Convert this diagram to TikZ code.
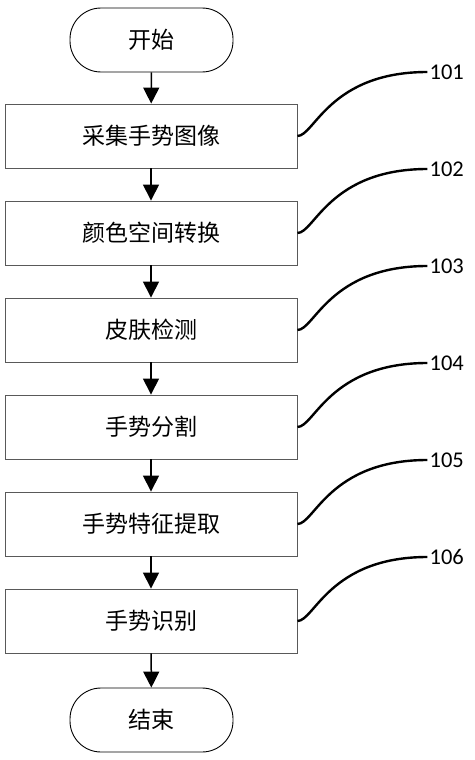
\documentclass[tikz,border=0pt]{standalone}
\usepackage{fontspec}
\setmainfont{Carlito}
\newfontfamily\cjk{Noto Sans CJK SC}
\usetikzlibrary{arrows.meta}
\begin{document}
\begin{tikzpicture}[x=1pt,y=-1pt,
  stepbox/.style={draw=black!65,line width=0.9pt,minimum width=292pt,minimum height=64pt,inner sep=0pt,font=\cjk\fontsize{23}{27}\selectfont},
  term/.style={draw=black,line width=0.9pt,rounded corners=31pt,minimum width=163pt,minimum height=64pt,inner sep=0pt,font=\cjk\fontsize{23}{27}\selectfont},
  flow/.style={line width=1.5pt,-{Triangle[length=16pt,width=16pt]}},
  leader/.style={line width=2.4pt},
  lbl/.style={anchor=west,inner sep=0pt,font=\fontsize{22.5}{26}\selectfont}]
\useasboundingbox (0,0) rectangle (474,760);
\node[term] (s) at (151.5,40) {开始};
\node[stepbox] (b1) at (151,136) {采集手势图像};
\node[stepbox] (b2) at (151,233) {颜色空间转换};
\node[stepbox] (b3) at (151,330) {皮肤检测};
\node[stepbox] (b4) at (151,427) {手势分割};
\node[stepbox] (b5) at (151,524) {手势特征提取};
\node[stepbox] (b6) at (151,621) {手势识别};
\node[term] (e) at (151.5,720) {结束};
\draw[flow] (s) -- (b1);
\draw[flow] (b1) -- (b2);
\draw[flow] (b2) -- (b3);
\draw[flow] (b3) -- (b4);
\draw[flow] (b4) -- (b5);
\draw[flow] (b5) -- (b6);
\draw[flow] (b6) -- (e);
\foreach \i/\t in {1/101,2/102,3/103,4/104,5/105,6/106}{
  \coordinate (c\i) at ([shift={(130,-64)}]b\i.east);
  \node[lbl] (l\i) at ([xshift=2pt]c\i) {\t};
  \draw[leader] (b\i.east) .. controls +(17,0) and +(-98,0) .. (c\i);
}
\end{tikzpicture}
\end{document}
